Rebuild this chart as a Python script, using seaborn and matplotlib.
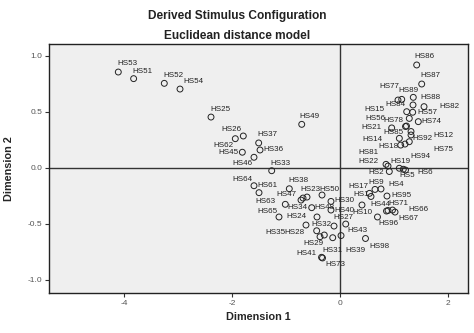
import matplotlib
matplotlib.use("Agg")
import matplotlib.pyplot as plt
import seaborn as sns
import pandas as pd

# Stimulus names and their coordinates in the two-dimensional solution
stimuli = [
    "HS53", "HS51", "HS52", "HS54", "HS25", "HS26", "HS62", "HS45", "HS46", "HS37",
    "HS36", "HS33", "HS49", "HS61", "HS64", "HS63", "HS65", "HS24", "HS47", "HS34",
    "HS23", "HS38", "HS50", "HS48", "HS30", "HS40", "HS32", "HS27", "HS43", "HS35",
    "HS28", "HS29", "HS31", "HS39", "HS41", "HS73", "HS98", "HS2", "HS22", "HS19",
    "HS5", "HS94", "HS6", "HS86", "HS87", "HS77", "HS89", "HS88", "HS82", "HS84",
    "HS15", "HS57", "HS78", "HS56", "HS74", "HS21", "HS85", "HS12", "HS92", "HS14",
    "HS18", "HS81", "HS75", "HS9", "HS4", "HS17", "HS1", "HS95", "HS44", "HS71",
    "HS66", "HS67", "HS96", "HS10",
]
dim1 = [
    -4.106, -3.822, -3.254, -2.963, -2.389, -1.791, -1.939, -1.809, -1.593, -1.506,
    -1.481, -1.265, -0.709, -1.593, -1.500, -1.013, -1.130, -0.426, -0.722, -0.685,
    -0.611, -0.939, -0.333, -0.524, -0.167, -0.167, -0.630, -0.111, 0.106, -0.291,
    -0.432, -0.370, -0.135, 0.019, -0.342, -0.324, 0.472, 0.913, 0.852, 0.889,
    1.098, 1.172, 1.213, 1.420, 1.513, 1.074, 1.143, 1.357, 1.556, 1.352,
    1.235, 1.346, 1.283, 1.213, 1.450, 0.957, 1.231, 1.315, 1.315, 1.099,
    1.124, 1.204, 1.283, 0.648, 0.759, 0.546, 0.574, 0.870, 0.407, 0.889,
    1.019, 0.972, 0.861, 0.694,
]
dim2 = [
    0.854, 0.795, 0.753, 0.702, 0.452, 0.283, 0.259, 0.138, 0.093, 0.221,
    0.158, -0.027, 0.387, -0.161, -0.223, -0.327, -0.440, -0.440, -0.289, -0.271,
    -0.262, -0.188, -0.244, -0.357, -0.301, -0.378, -0.512, -0.521, -0.503, -0.601,
    -0.563, -0.616, -0.625, -0.606, -0.800, -0.806, -0.632, -0.034, 0.030, 0.015,
    -0.005, -0.014, -0.021, 0.917, 0.747, 0.604, 0.610, 0.628, 0.545, 0.560,
    0.500, 0.495, 0.440, 0.368, 0.411, 0.355, 0.372, 0.323, 0.292, 0.262,
    0.202, 0.211, 0.232, -0.194, -0.190, -0.229, -0.257, -0.253, -0.333, -0.382,
    -0.396, -0.378, -0.387, -0.440,
]

x_ticks = [-4, -2, 0, 2]
y_ticks = [-1.0, -0.5, 0.0, 0.5, 1.0]

# Label placement (pixel offsets of each label's left/centre from its point)
label_offsets = {
    "HS53": (-1, 8.7), "HS51": (-1, 6.7), "HS52": (-1, 8.3), "HS54": (3, 7.7),
    "HS25": (-1, 8), "HS26": (-22, 6), "HS62": (-22, -6.6), "HS45": (-24, -0.4),
    "HS46": (-22, -6), "HS37": (-1, 8.7), "HS36": (3, 0), "HS33": (-1, 7.7),
    "HS49": (-2, 8.3), "HS61": (3, 0.7), "HS64": (-27, 12.7), "HS63": (-30, 2.6),
    "HS65": (-22, 5.3), "HS24": (-31, 0.3), "HS47": (-25, 5.5), "HS34": (-16, -9.7),
    "HS23": (-7, 8), "HS38": (-1, 8), "HS50": (-3, 6), "HS48": (3, 0),
    "HS30": (3, 0.5), "HS40": (3, 0), "HS32": (5, 1), "HS27": (-1, 9),
    "HS43": (2, -6.7), "HS35": (-59, 3), "HS28": (-32, -1.3), "HS29": (-17, -7.3),
    "HS31": (-10, -12.3), "HS39": (4, -14.5), "HS41": (-25, 4.3), "HS73": (2.5, -6.5),
    "HS98": (3.5, -8.2), "HS2": (-21, -1), "HS22": (-28, 2.6), "HS19": (2, 4.3),
    "HS5": (0, -7.7), "HS94": (7, 12.6), "HS6": (11.5, -2), "HS86": (-2, 8),
    "HS87": (-1, 8.3), "HS77": (-19, 14), "HS89": (-3, 8.6), "HS88": (7, 0),
    "HS82": (15, 0), "HS84": (-28, 0), "HS15": (-42, 1.7), "HS57": (5, 0),
    "HS78": (-26, -2.4), "HS56": (-40, 7.5), "HS74": (3, 0), "HS21": (-30, 0.7),
    "HS85": (-23.5, -6.7), "HS12": (22, -3.5), "HS92": (1, -4), "HS14": (-37, -1),
    "HS18": (-22, -1.7), "HS81": (-47, -8.3), "HS75": (24, -7.6), "HS9": (-7, 7),
    "HS4": (7, 4.5), "HS17": (-21.5, 6.5), "HS1": (-18, 1.5), "HS95": (4, 1),
    "HS44": (8, 0), "HS71": (0, 7.2), "HS66": (13, 2.7), "HS67": (5.5, -8.3),
    "HS96": (-8.5, -12.3), "HS10": (-25.5, 4.5),
}

df = pd.DataFrame({"Stimulus": stimuli, "Dimension 1": dim1, "Dimension 2": dim2})

sns.set_style("white")
plt.rcParams["font.family"] = ["Liberation Sans", "DejaVu Sans"]

fig = plt.figure(figsize=(4.74, 3.33), dpi=100)
ax = fig.add_axes([0.1034, 0.121, 0.8839, 0.7478])
ax.set_facecolor("#efefef")

# Reference lines through the origin
ax.axvline(0, color="#333333", lw=1.0, zorder=1)
ax.axhline(0, color="#333333", lw=1.0, zorder=1)

sns.scatterplot(data=df, x="Dimension 1", y="Dimension 2", ax=ax,
                marker="o", s=18, color="black", linewidth=0.7, zorder=3)
pts = ax.collections[-1]
pts.set_facecolor("none")
pts.set_edgecolor("#222222")

for name, xv, yv in zip(stimuli, dim1, dim2):
    dx, dy = label_offsets[name]
    ax.annotate(name, (xv, yv), xytext=(dx, dy), textcoords="offset pixels",
                ha="left", va="center", fontsize=5.8, color="#222222", zorder=4)

ax.set_xlim(-5.389, 2.370)
ax.set_ylim(-1.116, 1.107)
ax.set_xticks(x_ticks)
ax.set_xticklabels([str(t) for t in x_ticks])
ax.set_yticks(y_ticks)
ax.set_yticklabels([f"{t:.1f}" for t in y_ticks])
ax.tick_params(axis="both", direction="out", length=3, width=0.8,
               labelsize=6, labelcolor="#555555", color="#333333",
               bottom=True, left=True, pad=2)
for sp in ax.spines.values():
    sp.set_color("#222222")
    sp.set_linewidth(1.0)

ax.set_xlabel("Dimension 1", fontsize=7.8, fontweight="bold", labelpad=4)
ax.set_ylabel("Dimension 2", fontsize=7.8, fontweight="bold", labelpad=10)

fig.text(0.5, 0.953, "Derived Stimulus Configuration", ha="center", va="center",
         fontsize=8.6, fontweight="bold", color="#222222")
fig.text(0.5, 0.891, "Euclidean distance model", ha="center", va="center",
         fontsize=8.6, fontweight="bold", color="#222222")

fig.savefig("out.png", dpi=100)
